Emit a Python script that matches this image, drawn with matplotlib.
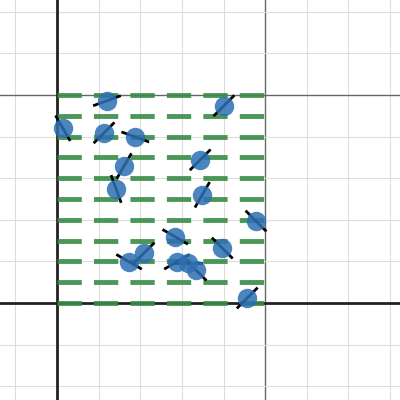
import numpy as np
import matplotlib
matplotlib.use("Agg")
import matplotlib.pyplot as plt

px = [1.2, 4.01, 0.14, 1.13, 1.88, 3.44, 1.61, 1.42, 3.49, 4.78, 2.84, 2.09, 3.97, 1.73, 2.88, 3.15, 3.34, 4.57]
py = [4.86, 4.74, 4.2, 4.09, 3.99, 3.44, 3.29, 2.74, 2.6, 1.97, 1.59, 1.2, 1.32, 0.99, 0.99, 0.96, 0.79, 0.12]
ang = [20, 45, -60, 45, -20, 45, 60, -70, 60, -45, -30, 45, -45, -30, 30, 0, -45, 45]
levels = [0, 0.5, 1, 1.5, 2, 2.5, 3, 3.5, 4, 4.5, 5]

fig = plt.figure(figsize=(4, 4), dpi=100)
ax = fig.add_axes([0, 0, 1, 1])
ax.set_xlim(-1.37, 8.24)
ax.set_ylim(-2.33, 7.28)
for v in np.arange(-1, 9):
    ax.axvline(v, color='#666' if v == 5 else '#ddd', lw=1 if v == 5 else 0.8, zorder=0)
for v in np.arange(-2, 8):
    ax.axhline(v, color='#666' if v == 5 else '#ddd', lw=1 if v == 5 else 0.8, zorder=0)
ax.axvline(0, color='#222', lw=2, zorder=1)
ax.axhline(0, color='#222', lw=2, zorder=1)
for y in levels:
    ax.plot([0, 5], [y, y], color='#388c46', alpha=0.9, lw=3.5, dashes=(5, 2.5), zorder=2)
L = 0.32
for x, y, a in zip(px, py, ang):
    t = np.radians(a)
    ax.plot([x - L*np.cos(t), x + L*np.cos(t)], [y - L*np.sin(t), y + L*np.sin(t)], color='black', lw=2, zorder=3)
ax.plot(px, py, 'o', color='#2d70b3', ms=14, alpha=0.85, mec='none', zorder=4)
ax.axis('off')
fig.savefig('out.png', dpi=100)
